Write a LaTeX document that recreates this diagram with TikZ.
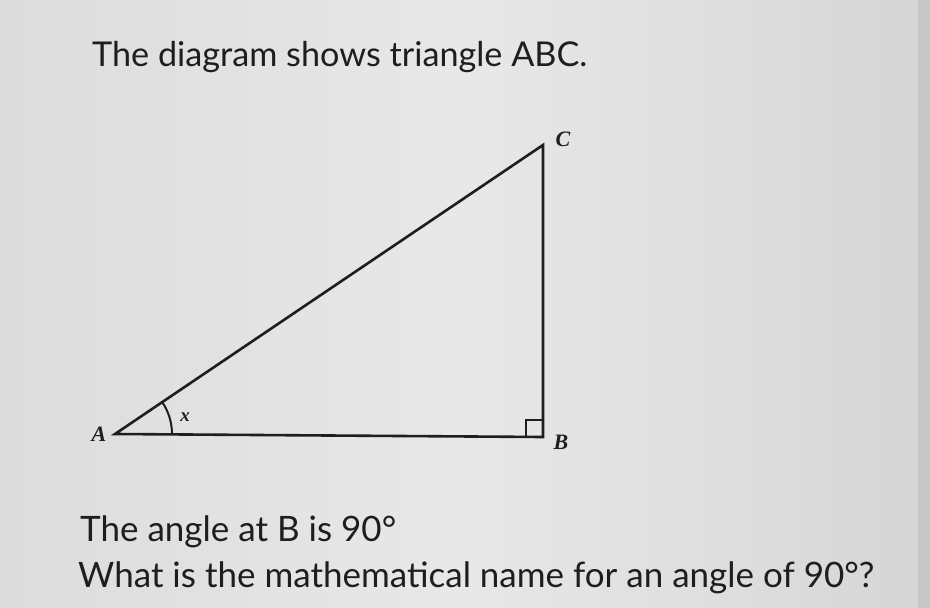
\documentclass[tikz,border=0pt]{standalone}
\usepackage{fontspec}
\setmainfont{Lato}
\newfontfamily\lblfont{Liberation Serif}
\definecolor{ink}{HTML}{1E1E1E}
\definecolor{bgmid}{HTML}{E8E8E8}
\definecolor{bgleft}{HTML}{DCDCDC}
\definecolor{bgright}{HTML}{D6D6D6}
\begin{document}
\begin{tikzpicture}[x=1pt,y=-1pt,
  txt/.style={anchor=base west,inner sep=0pt,text=ink,font=\fontsize{35}{42}\selectfont},
  vlabel/.style={inner sep=0pt,text=ink,font=\lblfont\itshape\bfseries\fontsize{22}{24}\selectfont},
  side/.style={draw=ink,line width=2.6pt},
  anglemark/.style={draw=ink,line width=2pt}]
\useasboundingbox (0,0) rectangle (930,608);
\shade[left color=bgleft,right color=bgright,middle color=bgmid] (0,0) rectangle (918,608);
\fill[color=black!22] (918,0) rectangle (930,608);
\node[txt,font=\fontsize{34.2}{42}\selectfont] (title) at (92,66) {The diagram shows triangle ABC.};
\coordinate (A) at (115,434);
\coordinate (B) at (543,437);
\coordinate (C) at (543,145);
\draw[side,line join=miter] (A) -- (B) -- (C) -- cycle;
\draw[anglemark] (526,437) -- (526,420) -- (543,420);
\draw[anglemark] (172,434) arc[start angle=0,end angle=-34,radius=57];
\node[vlabel] (la) at (99,434) {A};
\node[vlabel] (lb) at (561,442) {B};
\node[vlabel] (lc) at (563,139) {C};
\node[vlabel,font=\lblfont\itshape\bfseries\fontsize{19}{20}\selectfont] (lx) at (185,417) {x};
\node[txt] (q1) at (80,541) {The angle at B is 90°};
\node[txt] (q2) at (78,587) {What is the mathematical name for an angle of 90°?};
\end{tikzpicture}
\end{document}
